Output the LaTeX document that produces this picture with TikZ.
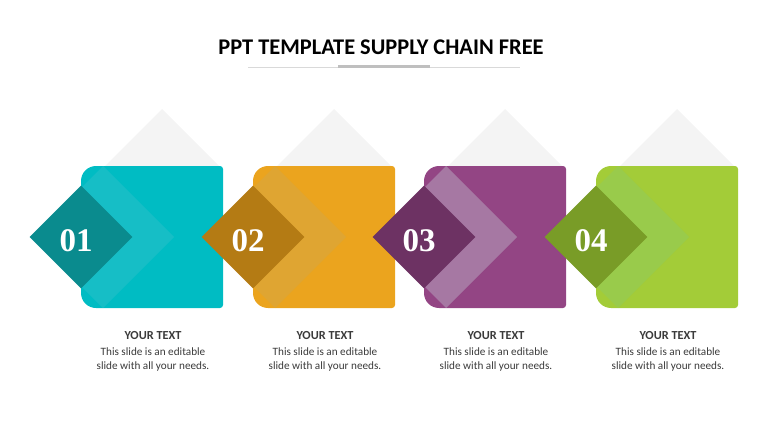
\documentclass[tikz,border=0pt]{standalone}
\usepackage{fontspec}
\setmainfont{Carlito}
\newfontfamily\numfont{Liberation Serif}
\usetikzlibrary{shapes.geometric,positioning}

\definecolor{roofgray}{HTML}{F4F4F4}
\definecolor{textgray}{HTML}{3A3A3A}
\definecolor{linegray}{HTML}{D9D9D9}
\definecolor{bargray}{HTML}{BFBFBF}
\definecolor{mainteal}{HTML}{00BCC3}
\definecolor{lightteal}{HTML}{16BEC6}
\definecolor{darkteal}{HTML}{0A8B8E}
\definecolor{mainorange}{HTML}{EBA41E}
\definecolor{lightorange}{HTML}{DFA532}
\definecolor{darkorange}{HTML}{B47B14}
\definecolor{mainpurple}{HTML}{934584}
\definecolor{lightpurple}{HTML}{A678A3}
\definecolor{darkpurple}{HTML}{6D3263}
\definecolor{maingreen}{HTML}{A3CC38}
\definecolor{lightgreen}{HTML}{99CB4B}
\definecolor{darkgreen}{HTML}{799C27}

\begin{document}
\begin{tikzpicture}[x=1pt, y=-1pt,
    numbox/.style = {shape=diamond, minimum width=103pt, minimum height=103pt,
      inner sep=0pt, text=white, font=\numfont\bfseries\fontsize{33}{33}\selectfont},
    headtext/.style = {text=textgray, font=\bfseries\fontsize{12.3}{14}\selectfont},
    bodytext/.style = {align=center, text=textgray, font=\fontsize{11.2}{13.5}\selectfont}]
    \useasboundingbox (0,0) rectangle (768,433);
    % title
    \node[text=black, font=\bfseries\fontsize{22.4}{26}\selectfont] (title) at (381,47) {PPT TEMPLATE SUPPLY CHAIN FREE};
    \draw[linegray, line width=0.8pt] (248,67) -- (520,67);
    \draw[bargray, line width=2.5pt] (338,66.5) -- (430,66.5);
    % four steps
    \foreach \cx/\col/\num [count=\i] in {81/teal/01, 253/orange/02, 424/purple/03, 596/green/04}{
      \fill[roofgray] (\cx+81,109) -- (\cx+138,166) -- (\cx+81,223) -- (\cx+24,166) -- cycle;
      \fill[main\col, path picture={
          \fill[light\col] (\cx+93,237) -- (\cx+22,166) -- (\cx-49,237) -- (\cx+22,308) -- cycle;}]
        (\cx+70,166) [rounded corners=3pt] -- (\cx+142,166) -- (\cx+142,308) -- (\cx+70,308)
        [rounded corners=15pt] -- (\cx,308) -- (\cx,166) [sharp corners] -- cycle;
      \node[numbox, fill=dark\col] (num\i) at (\cx,237) {\raisebox{-4pt}[\height][\depth]{\kern-10pt\num}};
      \node[headtext] (head\i) at (\cx+72,336) {YOUR TEXT};
      \node[bodytext, below=1pt of head\i] (body\i) {This slide is an editable\\slide with all your needs.};
    }
\end{tikzpicture}
\end{document}
